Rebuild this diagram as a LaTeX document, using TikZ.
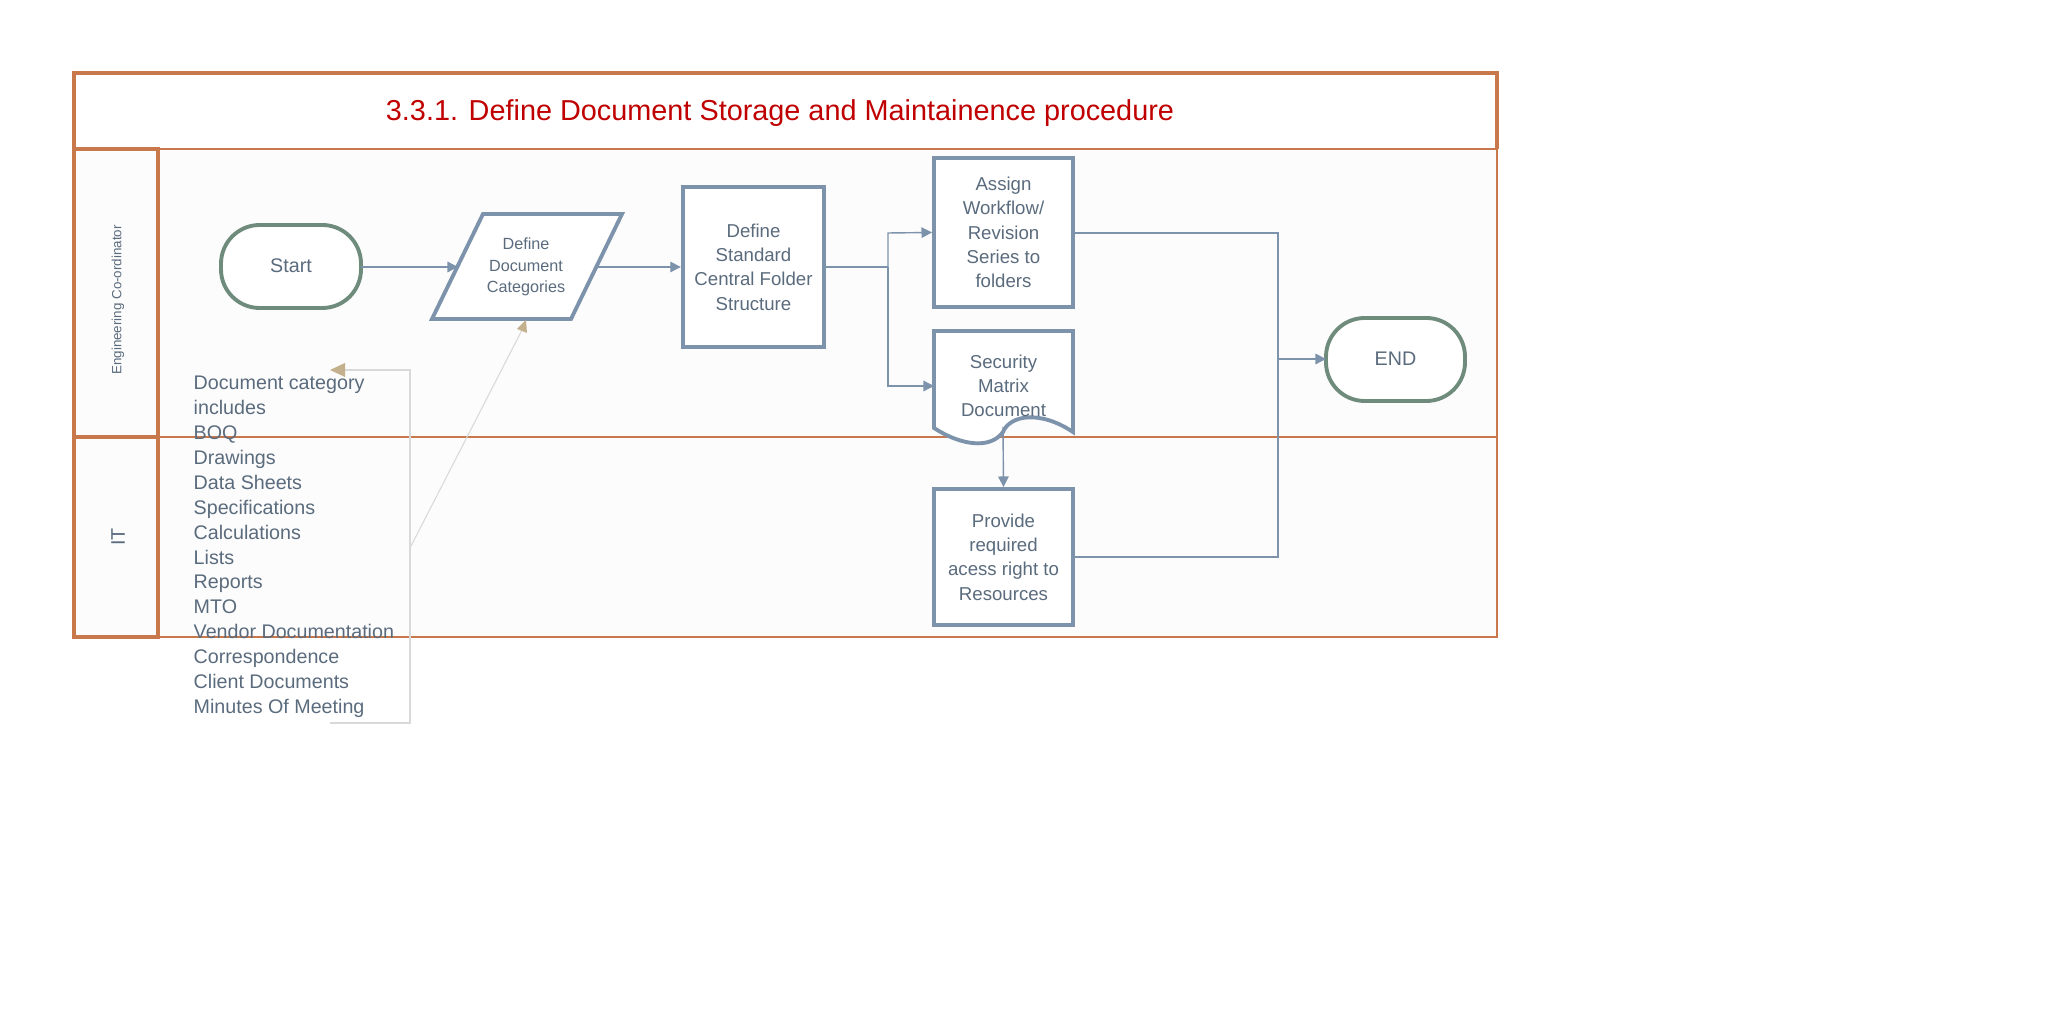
\documentclass[tikz,border=0pt]{standalone}
\usepackage{fontspec}
\setmainfont{Liberation Sans}
\usetikzlibrary{arrows.meta,shapes.geometric}
\definecolor{lane}{HTML}{C8784A}
\definecolor{bx}{HTML}{7D93AB}
\definecolor{gr}{HTML}{6E8B7C}
\definecolor{tx}{HTML}{5A6B7D}
\definecolor{ttl}{HTML}{C00000}
\definecolor{tan}{HTML}{C4B08C}
\tikzset{
 pbox/.style={draw=bx,line width=1.1pt,fill=white,text=tx,font=\fontsize{5.3}{6.9}\selectfont,align=center},
 conn/.style={draw=bx,line width=0.4pt,-{Triangle[length=3pt,width=3pt]}},
 ann/.style={draw=black!15,line width=0.3pt},
}
\begin{document}
\begin{tikzpicture}[x=0.01cm,y=-0.01cm]
\useasboundingbox (0,0) rectangle (2048,1013);
% lanes
\draw[lane,line width=0.4pt,fill=black!1] (74,149) rectangle (1497,637);
\draw[lane,line width=0.4pt] (74,437) -- (1497,437);
\draw[lane,line width=1.3pt] (74,149) rectangle (158,437);
\draw[lane,line width=1.3pt] (74,437) rectangle (158,637);
\draw[lane,line width=0.4pt] (74,149) -- (1497,149);
\draw[lane,line width=1.3pt] (74,149) -- (74,73) -- (1497,73) -- (1497,149);
\node[text=ttl,font=\fontsize{8.2}{10}\selectfont] (title) at (780,113) {3.3.1. Define Document Storage and Maintainence procedure};
\node[rotate=90,text=tx,font=\fontsize{3.8}{5}\selectfont] (l1) at (118,300) {Engineering Co-ordinator};
\node[rotate=90,text=tx,font=\fontsize{5.6}{7}\selectfont] (l2) at (118,537) {IT};
% shapes
\draw[gr,line width=1.1pt,fill=white,rounded corners=11pt] (221,225) rectangle (361,308);
\node[text=tx,font=\fontsize{5.6}{7}\selectfont] (st) at (291,266) {Start};
\draw[bx,line width=1.1pt,fill=white] (432,319) -- (483,214) -- (622,214) -- (571,319) -- cycle;
\node[text=tx,font=\fontsize{4.6}{6.1}\selectfont,align=center] (cat) at (526,267) {Define\\Document\\Categories};
\node[pbox,minimum width=1.39cm,minimum height=1.6cm] (fold) at (753.5,267) {Define\\Standard\\Central Folder\\Structure};
\node[pbox,minimum width=1.39cm,minimum height=1.49cm] (assign) at (1003.5,232.5) {Assign\\Workflow/\\Revision\\Series to\\folders};
\draw[bx,line width=1.1pt,fill=white] (934,331) -- (1073,331) -- (1073,432) .. controls (1040,410) and (1010,415) .. (1003,432) .. controls (990,450) and (960,445) .. (934,428) -- cycle;
\node[text=tx,font=\fontsize{5.3}{6.9}\selectfont,align=center] (sec) at (1003.5,386) {Security\\Matrix\\Document};
\node[pbox,minimum width=1.39cm,minimum height=1.36cm] (prov) at (1003.5,557) {Provide\\required\\acess right to\\Resources};
\draw[gr,line width=1.1pt,fill=white,rounded corners=11pt] (1326,318) rectangle (1465,401);
\node[text=tx,font=\fontsize{5.6}{7}\selectfont] (endn) at (1395.5,359) {END};
\coordinate (pr) at (597,267);
\coordinate (sb) at (1003,427);
\coordinate (ent) at (1326,359);
% connectors
\draw[conn] (361,267) -- (458,267);
\draw[conn] (pr) -- (fold.west);
\draw[bx,line width=0.4pt] (fold.east) -- (888,267);
\draw[conn] (888,267) -- (888,233) -- (assign.west);
\draw[conn] (888,267) -- (888,386) -- (934,386);
\draw[conn] (sb) -- (prov.north);
\draw[bx,line width=0.4pt] (1073,233) -- (1278,233) -- (1278,557) -- (prov.east);
\draw[conn] (1278,359) -- (ent);
% annotation
\draw[ann] (330,723) -- (410,723) -- (410,370) -- (345,370);
\fill[tan] (330,370) -- (345,363) -- (345,377) -- cycle;
\draw[ann] (410,548) -- (522,330);
\fill[tan] (526,320) -- (527,333) -- (517,329) -- cycle;
\node[anchor=north west,text=tx,font=\fontsize{5.6}{7.1}\selectfont,align=left,inner sep=0] (list) at (193,375) {Document category\\includes\\BOQ\\Drawings\\Data Sheets\\Specifications\\Calculations\\Lists\\Reports\\MTO\\Vendor Documentation\\Correspondence\\Client Documents\\Minutes Of Meeting};
\end{tikzpicture}
\end{document}
